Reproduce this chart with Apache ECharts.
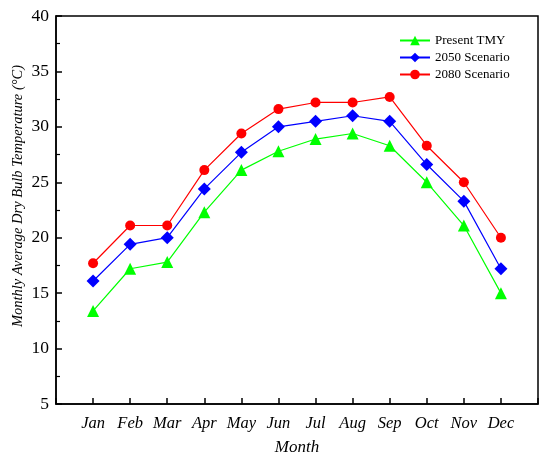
<!DOCTYPE html>
<html>
<head>
<meta charset="utf-8">
<script src="https://cdn.jsdelivr.net/npm/echarts@6/dist/echarts.min.js"></script>
<style>
  html, body { margin: 0; padding: 0; background: #fff; }
  #chart { width: 550px; height: 459px; }
</style>
</head>
<body>
<div id="chart"></div>
<script>
var months = ["Jan", "Feb", "Mar", "Apr", "May", "Jun", "Jul", "Aug", "Sep", "Oct", "Nov", "Dec"];
var presentTMY = [13.4, 17.2, 17.8, 22.3, 26.1, 27.8, 28.9, 29.4, 28.3, 25.0, 21.1, 15.0];
var scenario2050 = [16.1, 19.4, 20.0, 24.4, 27.7, 30.0, 30.5, 31.0, 30.5, 26.6, 23.3, 17.2];
var scenario2080 = [17.7, 21.1, 21.1, 26.1, 29.4, 31.6, 32.2, 32.2, 32.7, 28.3, 25.0, 20.0];

// x positions 1..12 so the months sit half a step in from the frame
function pairs(arr) {
  return arr.map(function (v, i) { return [i + 1, v]; });
}

var font = "Liberation Serif";
var chart = echarts.init(document.getElementById("chart"));
var option = {
  animation: false,
  grid: {
    left: 56, right: 12, top: 16, bottom: 55,
    outerBoundsMode: "none",
    show: true, borderColor: "#000", borderWidth: 1.5, backgroundColor: "transparent"
  },
  legend: {
    orient: "vertical",
    left: 394, top: 29,
    itemWidth: 30, itemHeight: 12, itemGap: 4,
    textStyle: { fontFamily: font, fontSize: 13, color: "#000" },
    data: ["Present TMY", "2050 Scenario", "2080 Scenario"]
  },
  xAxis: {
    type: "value",
    min: 0, max: 13, interval: 1,
    name: "Month",
    nameLocation: "middle",
    nameGap: 35,
    nameTextStyle: { fontFamily: font, fontSize: 17, fontStyle: "italic", color: "#000" },
    axisLine: { lineStyle: { color: "#000", width: 1.5 } },
    axisTick: { inside: true, length: 6, lineStyle: { color: "#000", width: 1.5 } },
    splitLine: { show: false },
    axisLabel: {
      margin: 11,
      fontFamily: font, fontSize: 16.5, fontStyle: "italic", color: "#000",
      formatter: function (v) { return months[v - 1] || ""; }
    }
  },
  yAxis: {
    type: "value",
    min: 5, max: 40, interval: 5,
    name: "Monthly Average Dry Bulb Temperature (°C)",
    nameLocation: "middle",
    nameGap: 30,
    nameMoveOverlap: false,
    nameTextStyle: { fontFamily: font, fontSize: 14.5, fontStyle: "italic", color: "#000", padding: [0, 0, 0, 28] },
    axisLine: { lineStyle: { color: "#000", width: 1.5 } },
    axisTick: { inside: true, length: 6, lineStyle: { color: "#000", width: 1.5 } },
    minorTick: { show: true, splitNumber: 2, length: 4, lineStyle: { color: "#000", width: 1.2 } },
    splitLine: { show: false },
    axisLabel: { margin: 7, fontFamily: font, fontSize: 17.5, color: "#000" }
  },
  series: [
    {
      name: "Present TMY", type: "line", data: pairs(presentTMY),
      symbol: "triangle", symbolSize: 12,
      itemStyle: { color: "#00ff00" }, lineStyle: { color: "#00ff00", width: 1.2 }
    },
    {
      name: "2050 Scenario", type: "line", data: pairs(scenario2050),
      symbol: "diamond", symbolSize: 13,
      itemStyle: { color: "#0000ff" }, lineStyle: { color: "#0000ff", width: 1.2 }
    },
    {
      name: "2080 Scenario", type: "line", data: pairs(scenario2080),
      symbol: "circle", symbolSize: 10,
      itemStyle: { color: "#ff0000" }, lineStyle: { color: "#ff0000", width: 1.2 }
    }
  ]
};
chart.setOption(option, true);
</script>
</body>
</html>
